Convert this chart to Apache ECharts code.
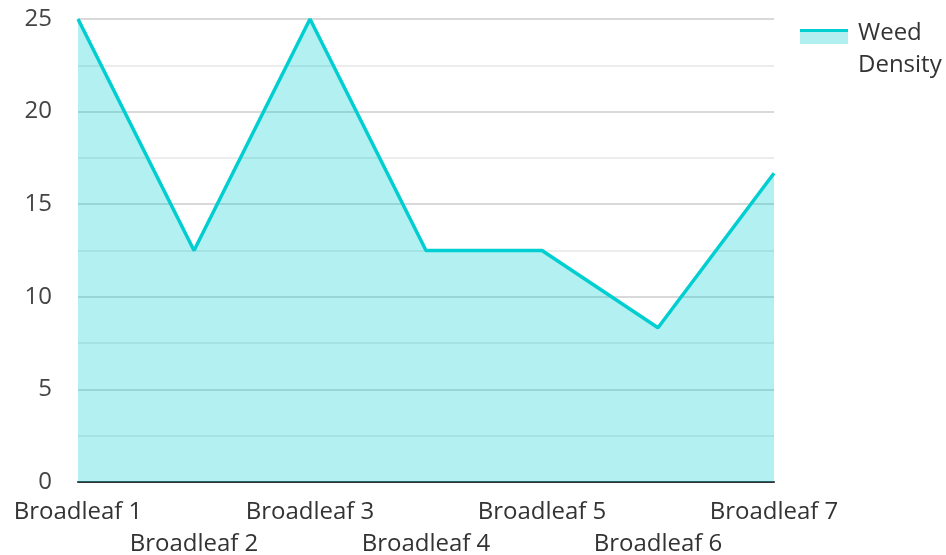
<!DOCTYPE html>
<html>
<head>
<meta charset="utf-8">
<script src="https://cdn.jsdelivr.net/npm/echarts@6/dist/echarts.min.js"></script>
<style>
  html, body { margin: 0; padding: 0; background: #fff; }
  #chart { width: 946px; height: 555px; }
</style>
</head>
<body>
<div id="chart"></div>
<script>
var categories = ['Broadleaf 1', 'Broadleaf 2', 'Broadleaf 3', 'Broadleaf 4', 'Broadleaf 5', 'Broadleaf 6', 'Broadleaf 7'];
var weedDensity = [25, 12.5, 25, 12.5, 12.5, 8.33, 16.67];
var seriesName = 'Weed Density';

var font = '"Open Sans", "Noto Sans", sans-serif';
var myChart = echarts.init(document.getElementById('chart'));
var option = {
    animation: false,
    textStyle: { fontFamily: font },
    grid: { left: 78, right: 172, top: 19, bottom: 73, containLabel: false, outerBoundsMode: 'none' },
    legend: {
        data: [seriesName],
        left: 805,
        top: 17,
        padding: 0,
        icon: 'rect',
        itemWidth: 48,
        itemHeight: 12,
        itemStyle: { color: 'rgba(0,0,0,0)', borderWidth: 0 },
        formatter: function () { return 'Weed\nDensity'; },
        textStyle: { fontSize: 24, color: '#333', lineHeight: 32, fontFamily: font }
    },
    // legend icon: line on top of the light area swatch
    graphic: [{
        type: 'rect',
        shape: { x: 800, y: 32, width: 48, height: 12 },
        style: { fill: '#b2eff0' }
    }, {
        type: 'rect',
        shape: { x: 800, y: 29, width: 48, height: 3 },
        style: { fill: '#00ced1' }
    }],
    xAxis: {
        type: 'category',
        data: categories,
        boundaryGap: false,
        axisLine: { lineStyle: { color: '#333', width: 2 } },
        axisTick: { show: false },
        axisLabel: {
            interval: 0,
            fontSize: 24,
            color: '#333',
            margin: 14,
            lineHeight: 32,
            formatter: function (v, i) { return i % 2 === 1 ? '\n' + v : v; }
        },
        splitLine: { show: false }
    },
    yAxis: {
        type: 'value',
        min: 0,
        max: 25,
        interval: 5,
        axisLine: { show: false },
        axisTick: { show: false },
        axisLabel: { fontSize: 24, color: '#444', margin: 26 },
        splitLine: { lineStyle: { color: '#cccccc', width: 1.5 } },
        minorTick: { show: false, splitNumber: 2 },
        minorSplitLine: { show: true, lineStyle: { color: '#e6e6e6', width: 1.5 } }
    },
    series: [{
        name: seriesName,
        type: 'line',
        data: weedDensity,
        symbol: 'none',
        lineStyle: { color: '#00ced1', width: 3.5 },
        itemStyle: { color: '#00ced1' },
        areaStyle: { color: '#00ced1', opacity: 0.3 }
    }]
};
myChart.setOption(option);
</script>
</body>
</html>
